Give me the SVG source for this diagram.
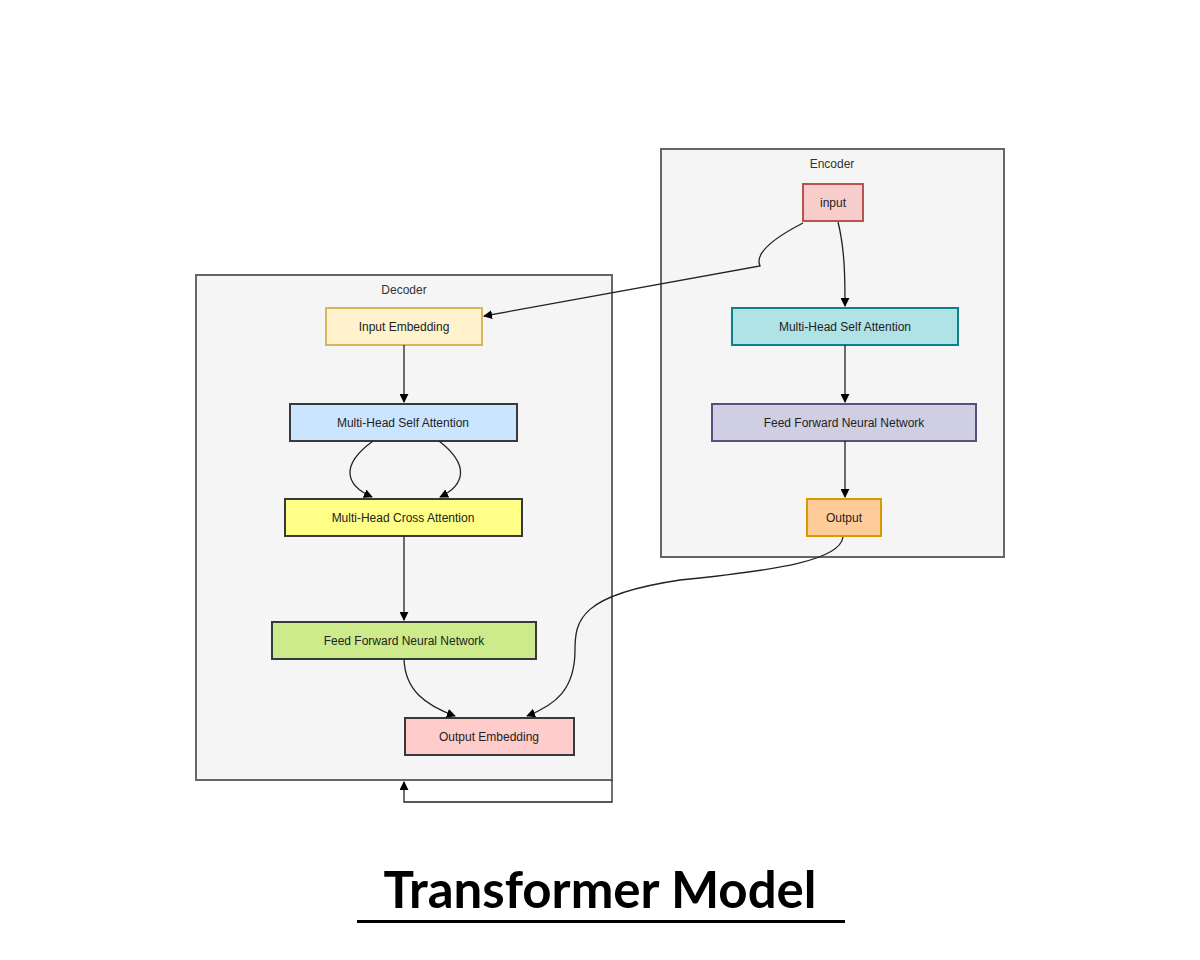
<svg xmlns="http://www.w3.org/2000/svg" width="1200" height="960" viewBox="0 0 1200 960">
<defs>
<marker id="a" viewBox="0 0 10 10" refX="9" refY="5" markerWidth="9" markerHeight="9" orient="auto" markerUnits="userSpaceOnUse"><path d="M0,0 L10,5 L0,10 Z" fill="#000"/></marker>
</defs>
<style>
.g{fill:#f5f5f5;stroke:#666;stroke-width:2}
.gl{font-family:"Liberation Sans",Arial,sans-serif;font-size:12px;fill:#333;text-anchor:middle}
.n rect{stroke-width:2}
.n text{font-family:"Liberation Sans",Arial,sans-serif;font-size:12px;fill:#222;text-anchor:middle}
#conn path{fill:none;stroke:#222;stroke-width:1.3;marker-end:url(#a)}
</style>
<rect width="1200" height="960" fill="#fff"/>
<g id="decoder"><rect class="g" x="196" y="275" width="416" height="505"/><text class="gl" x="404" y="294">Decoder</text></g>
<g id="encoder"><rect class="g" x="661" y="149" width="343" height="408"/><text class="gl" x="832" y="168">Encoder</text></g>
<g id="n1" class="n"><rect x="326" y="308" width="156" height="37" fill="#fff2cc" stroke="#d6b656"/><text x="404" y="331">Input Embedding</text></g>
<g id="n2" class="n"><rect x="290" y="404" width="227" height="37" fill="#cce5ff" stroke="#36393d"/><text x="403" y="427">Multi-Head Self Attention</text></g>
<g id="n3" class="n"><rect x="285" y="499" width="237" height="37" fill="#ffff88" stroke="#36393d"/><text x="403" y="522">Multi-Head Cross Attention</text></g>
<g id="n4" class="n"><rect x="272" y="622" width="264" height="37" fill="#cdeb8b" stroke="#36393d"/><text x="404" y="645">Feed Forward Neural Network</text></g>
<g id="n5" class="n"><rect x="405" y="718" width="169" height="37" fill="#ffcccc" stroke="#36393d"/><text x="489" y="741">Output Embedding</text></g>
<g id="e1" class="n"><rect x="803" y="184" width="60" height="37" fill="#f8cecc" stroke="#b85450"/><text x="833" y="207">input</text></g>
<g id="e2" class="n"><rect x="732" y="308" width="226" height="37" fill="#b0e3e6" stroke="#0e8088"/><text x="845" y="331">Multi-Head Self Attention</text></g>
<g id="e3" class="n"><rect x="712" y="404" width="264" height="37" fill="#d0cee2" stroke="#56517e"/><text x="844" y="427">Feed Forward Neural Network</text></g>
<g id="e4" class="n"><rect x="807" y="499" width="74" height="37" fill="#ffcc99" stroke="#d79b00"/><text x="844" y="522">Output</text></g>
<g id="conn">
<path d="M803,223 C770,240 755,255 760,266 L484,316"/>
<path d="M838,222 C845,250 845,280 845,306"/>
<path d="M845,345 L845,402"/>
<path d="M845,441 L845,497"/>
<path d="M843,537 C840,560 780,570 680,580 C580,595 575,620 575,650 C575,690 555,705 527,716"/>
<path d="M404,345 L404,402"/>
<path d="M373,441 C340,465 345,485 372,497"/>
<path d="M439,441 C470,465 465,485 440,497"/>
<path d="M404,536 L404,620"/>
<path d="M404,659 C405,690 425,705 455,716"/>
<path d="M612,780 L612,802 L404,802 L404,782"/>
</g>
<text x="600" y="908" font-family="Lato,'Liberation Sans',sans-serif" font-weight="bold" font-size="51" text-anchor="middle" fill="#000">Transformer Model</text>
<rect x="357" y="920" width="488" height="3" fill="#000"/>
</svg>
